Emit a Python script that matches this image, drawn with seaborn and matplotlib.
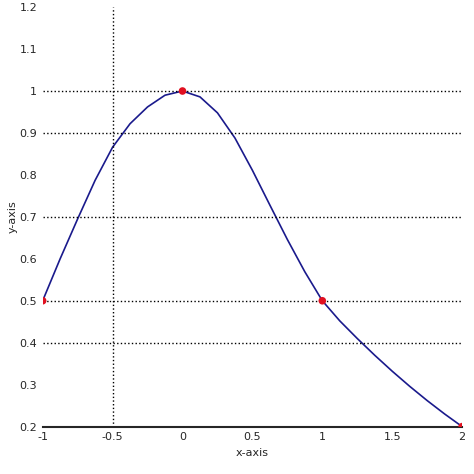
import matplotlib
matplotlib.use("Agg")
import matplotlib.pyplot as plt
import seaborn as sns
import pandas as pd

curve_x = [-1.0, -0.875, -0.75, -0.625, -0.5, -0.375, -0.25, -0.125, 0.0, 0.125, 0.25, 0.375, 0.5, 0.625, 0.75, 0.875, 1.0, 1.125, 1.25, 1.375, 1.5, 1.625, 1.75, 1.875, 2.0]
curve_y = [0.5, 0.6, 0.695, 0.787, 0.866, 0.922, 0.962, 0.99, 1.0, 0.986, 0.948, 0.888, 0.811, 0.728, 0.646, 0.569, 0.5, 0.452, 0.41, 0.37, 0.332, 0.296, 0.262, 0.23, 0.2]
pts_x = [-1, 0, 1, 2]
pts_y = [0.5, 1.0, 0.5, 0.2]
xticks = [-1, -0.5, 0, 0.5, 1, 1.5, 2]
yticks = [0.2, 0.3, 0.4, 0.5, 0.6, 0.7, 0.8, 0.9, 1.0, 1.1, 1.2]
ytick_labels = ["0.2", "0.3", "0.4", "0.5", "0.6", "0.7", "0.8", "0.9", "1", "1.1", "1.2"]
hgrid = [0.4, 0.5, 0.7, 0.9, 1.0]
vgrid = [-0.5]

sns.set_style("white")
fig, ax = plt.subplots(figsize=(4.74, 4.74), dpi=100)
sns.lineplot(x=curve_x, y=curve_y, ax=ax, color="#1a1a8c", lw=1.2)
sns.scatterplot(x=pts_x, y=pts_y, ax=ax, color="#e01020", s=30, zorder=5, edgecolor="none")
for h in hgrid:
    ax.axhline(h, color="black", ls=":", lw=1)
for v in vgrid:
    ax.axvline(v, color="black", ls=":", lw=1)
ax.set_xlim(-1, 2)
ax.set_ylim(0.2, 1.2)
ax.set_xticks(xticks)
ax.set_xticklabels(["-1", "-0.5", "0", "0.5", "1", "1.5", "2"])
ax.set_yticks(yticks)
ax.set_yticklabels(ytick_labels)
ax.tick_params(labelsize=8, length=3, direction="out", pad=1)
ax.set_xlabel("x-axis", fontsize=8)
ax.set_ylabel("y-axis", fontsize=8, labelpad=1)
for s in ["top", "right"]:
    ax.spines[s].set_visible(False)
ax.spines["left"].set_visible(False)
ax.spines["bottom"].set_linewidth(1.5)
fig.subplots_adjust(left=0.09, right=0.975, top=0.985, bottom=0.1)
fig.savefig("out.png", dpi=100)
